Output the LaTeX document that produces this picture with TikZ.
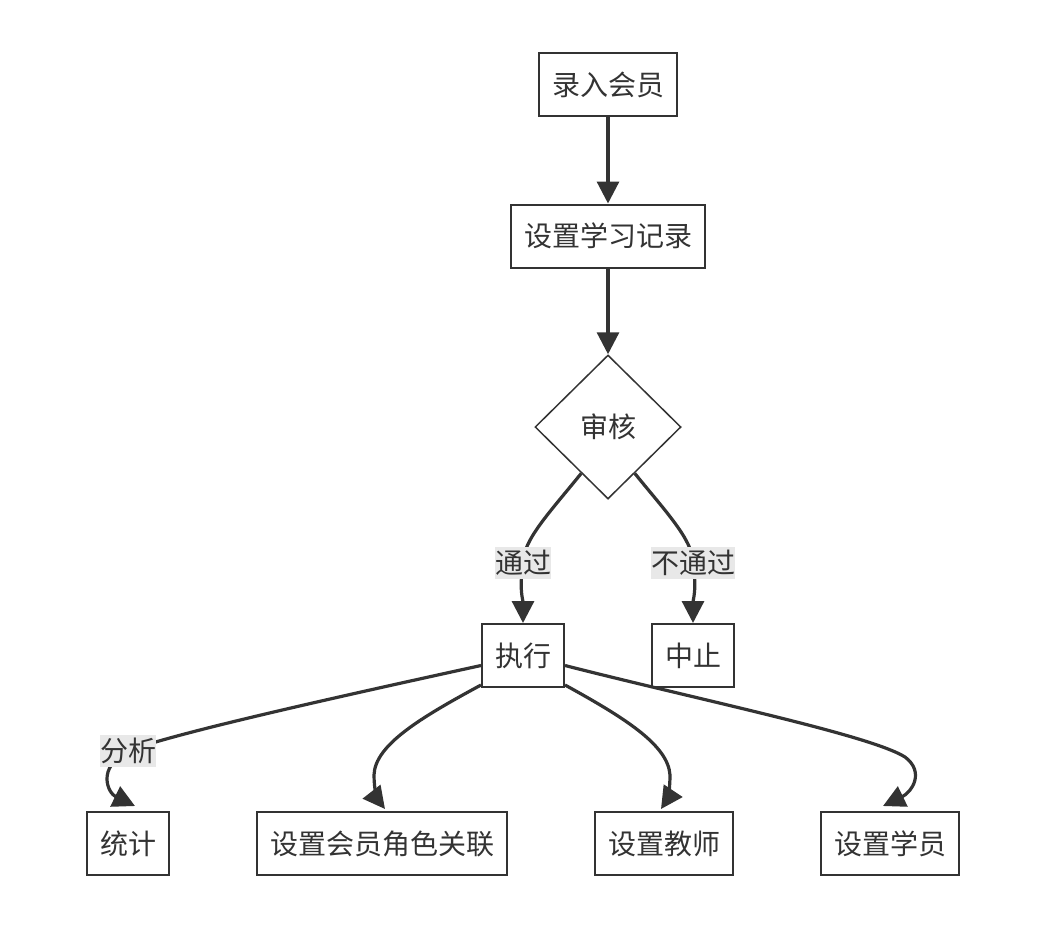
\documentclass[tikz,border=0pt]{standalone}
\usepackage{fontspec}
\newfontfamily\cjk{Noto Sans CJK SC}
\usetikzlibrary{shapes.geometric,arrows.meta}
\definecolor{ink}{HTML}{333333}
\definecolor{lbg}{HTML}{E8E8E8}
\begin{document}
\begin{tikzpicture}[x=1pt,y=-1pt,
  txt/.style={text=ink,font=\cjk\fontsize{28}{32}\selectfont},
  box/.style={txt,draw=ink,line width=2pt,fill=white,inner xsep=13pt,inner ysep=0pt,minimum height=63pt},
  dec/.style={txt,shape=diamond,draw=ink,line width=1.5pt,fill=white,inner sep=0pt,minimum width=146pt,minimum height=144pt},
  lbl/.style={txt,fill=lbg,inner sep=0pt,minimum height=32pt},
  edge/.style={draw=ink,line width=3.2pt,-{Triangle[length=22pt,width=22pt]}}]
\useasboundingbox (0,0) rectangle (1046,932);
\node[box] (lr) at (608,84.5) {录入会员};
\node[box] (sz) at (608,236) {设置学习记录};
\node[dec] (sh) at (608,427) {审核};
\node[box] (zx) at (523,655.5) {执行};
\node[box] (zz) at (693,655.5) {中止};
\node[box] (tj) at (128,843.5) {统计};
\node[box] (jsgl) at (382,843.5) {设置会员角色关联};
\node[box] (js) at (664,843.5) {设置教师};
\node[box] (xy) at (890,843.5) {设置学员};
\coordinate (c1) at (523,563);
\coordinate (c2) at (693,563);
\coordinate (c3) at (128,751);
\draw[edge] (lr) -- (sz);
\draw[edge] (sz) -- (sh);
\draw[edge] (sh.-120) .. controls (550,512) and (523,540) .. (c1) .. controls (519,590) and (523,600) .. (zx.north);
\draw[edge] (sh.-60) .. controls (666,512) and (693,540) .. (c2) .. controls (697,590) and (693,600) .. (zz.north);
\draw[edge] ([yshift=-10pt]zx.west) .. controls (300,705) and (170,735) .. (c3) .. controls (96,768) and (108,793) .. ([xshift=7pt,yshift=5pt]tj.north);
\draw[edge] ([yshift=3pt]zx.south west) .. controls (420,718) and (375,745) .. (374,775) .. controls (374,790) and (378,800) .. ([xshift=3pt,yshift=2pt]jsgl.north);
\draw[edge] ([yshift=3pt]zx.south east) .. controls (625,718) and (668,745) .. (670,775) .. controls (670,790) and (667,800) .. ([xshift=-3pt,yshift=2pt]js.north);
\draw[edge] ([yshift=-10pt]zx.east) .. controls (700,700) and (870,735) .. (905,757) .. controls (925,772) and (912,792) .. ([xshift=-7pt,yshift=5pt]xy.north);
\node[lbl] (l1) at (c1) {通过};
\node[lbl] (l2) at (c2) {不通过};
\node[lbl] (l3) at (c3) {分析};
\end{tikzpicture}
\end{document}
